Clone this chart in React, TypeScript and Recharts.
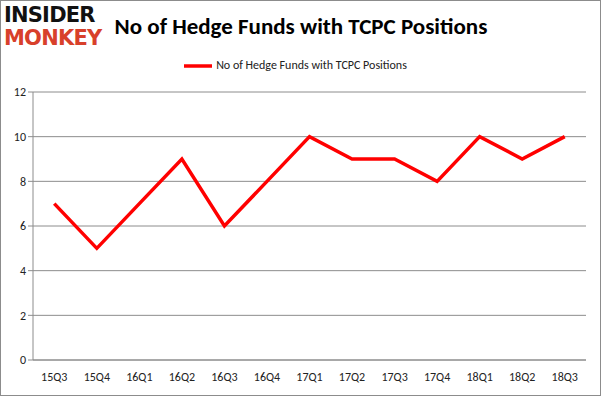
import React from 'react';
import { LineChart, Line, XAxis, YAxis, CartesianGrid, Legend } from 'recharts';

const quarters = ['15Q3', '15Q4', '16Q1', '16Q2', '16Q3', '16Q4', '17Q1', '17Q2', '17Q3', '17Q4', '18Q1', '18Q2', '18Q3'];
const fundCounts = [7, 5, 7, 9, 6, 8, 10, 9, 9, 8, 10, 9, 10];
const yTicks = [0, 2, 4, 6, 8, 10, 12];
const boundaryTicks = [0, 1, 2, 3, 4, 5, 6, 7, 8, 9, 10, 11, 12, 13];
const labelTicks = quarters.map((_, i) => i + 0.5);

const seriesName = 'No of Hedge Funds with TCPC Positions';

const data = quarters.map((q, i) => ({ quarter: q, idx: i + 0.5, value: fundCounts[i] }));

const font = 'Calibri, Carlito, "Open Sans", sans-serif';

const App: React.FC = () => {
  return (
    <div style={{ position: 'absolute', left: 0, top: 0, width: 601, height: 396, background: '#fff', fontFamily: font }}>
      <div style={{ position: 'absolute', left: 0, top: 0, width: 599, height: 394, border: '1px solid #8c8c8c' }} />
      <div style={{ position: 'absolute', left: 4, top: 4, lineHeight: '23px', fontWeight: 900, fontSize: 21, fontFamily: '"DejaVu Sans", sans-serif', letterSpacing: -0.8 }}>
        <div style={{ color: '#111' }}>INSIDER</div>
        <div style={{ color: '#d8402b' }}>MONKEY</div>
      </div>
      <div style={{ position: 'absolute', left: 105, top: 12, width: 392, textAlign: 'center', fontSize: 23, fontWeight: 'bold', color: '#000' }}>
        {seriesName}
      </div>
      <LineChart width={601} height={396} data={data} margin={{ top: 64, right: 15, bottom: 0, left: 0 }}>
        <CartesianGrid vertical={false} stroke="#8c8c8c" strokeWidth={1} />
        <XAxis
          xAxisId="bounds"
          type="number"
          dataKey="idx"
          domain={[0, 13]}
          ticks={boundaryTicks}
          tick={false}
          axisLine={{ stroke: '#8c8c8c' }}
          tickLine={{ stroke: '#8c8c8c' }}
          tickSize={5}
          height={1}
        />
        <XAxis
          xAxisId="labels"
          type="number"
          dataKey="idx"
          domain={[0, 13]}
          ticks={labelTicks}
          interval={0}
          tickFormatter={(v: number) => quarters[Math.floor(v)]}
          axisLine={false}
          tickLine={false}
          tickSize={9}
          height={35}
          tick={{ fill: '#222', fontSize: 12, fontFamily: font }}
        />
        <YAxis
          domain={[0, 12]}
          ticks={yTicks}
          width={33}
          axisLine={{ stroke: '#8c8c8c' }}
          tickLine={{ stroke: '#8c8c8c' }}
          tickSize={5}
          tick={{ fill: '#222', fontSize: 12, fontFamily: font }}
        />
        <Legend
          verticalAlign="top"
          align="center"
          iconSize={28}
          wrapperStyle={{ top: 52, left: 0, width: 601, fontSize: 12, fontFamily: font }}
          formatter={(v: string) => <span style={{ color: '#222' }}>{v}</span>}
        />
        <Line
          xAxisId="bounds"
          dataKey="value"
          name={seriesName}
          type="linear"
          stroke="#ff0000"
          strokeWidth={3.5}
          dot={false}
          legendType="plainline"
          isAnimationActive={false}
        />
      </LineChart>
    </div>
  );
};

export default App;
